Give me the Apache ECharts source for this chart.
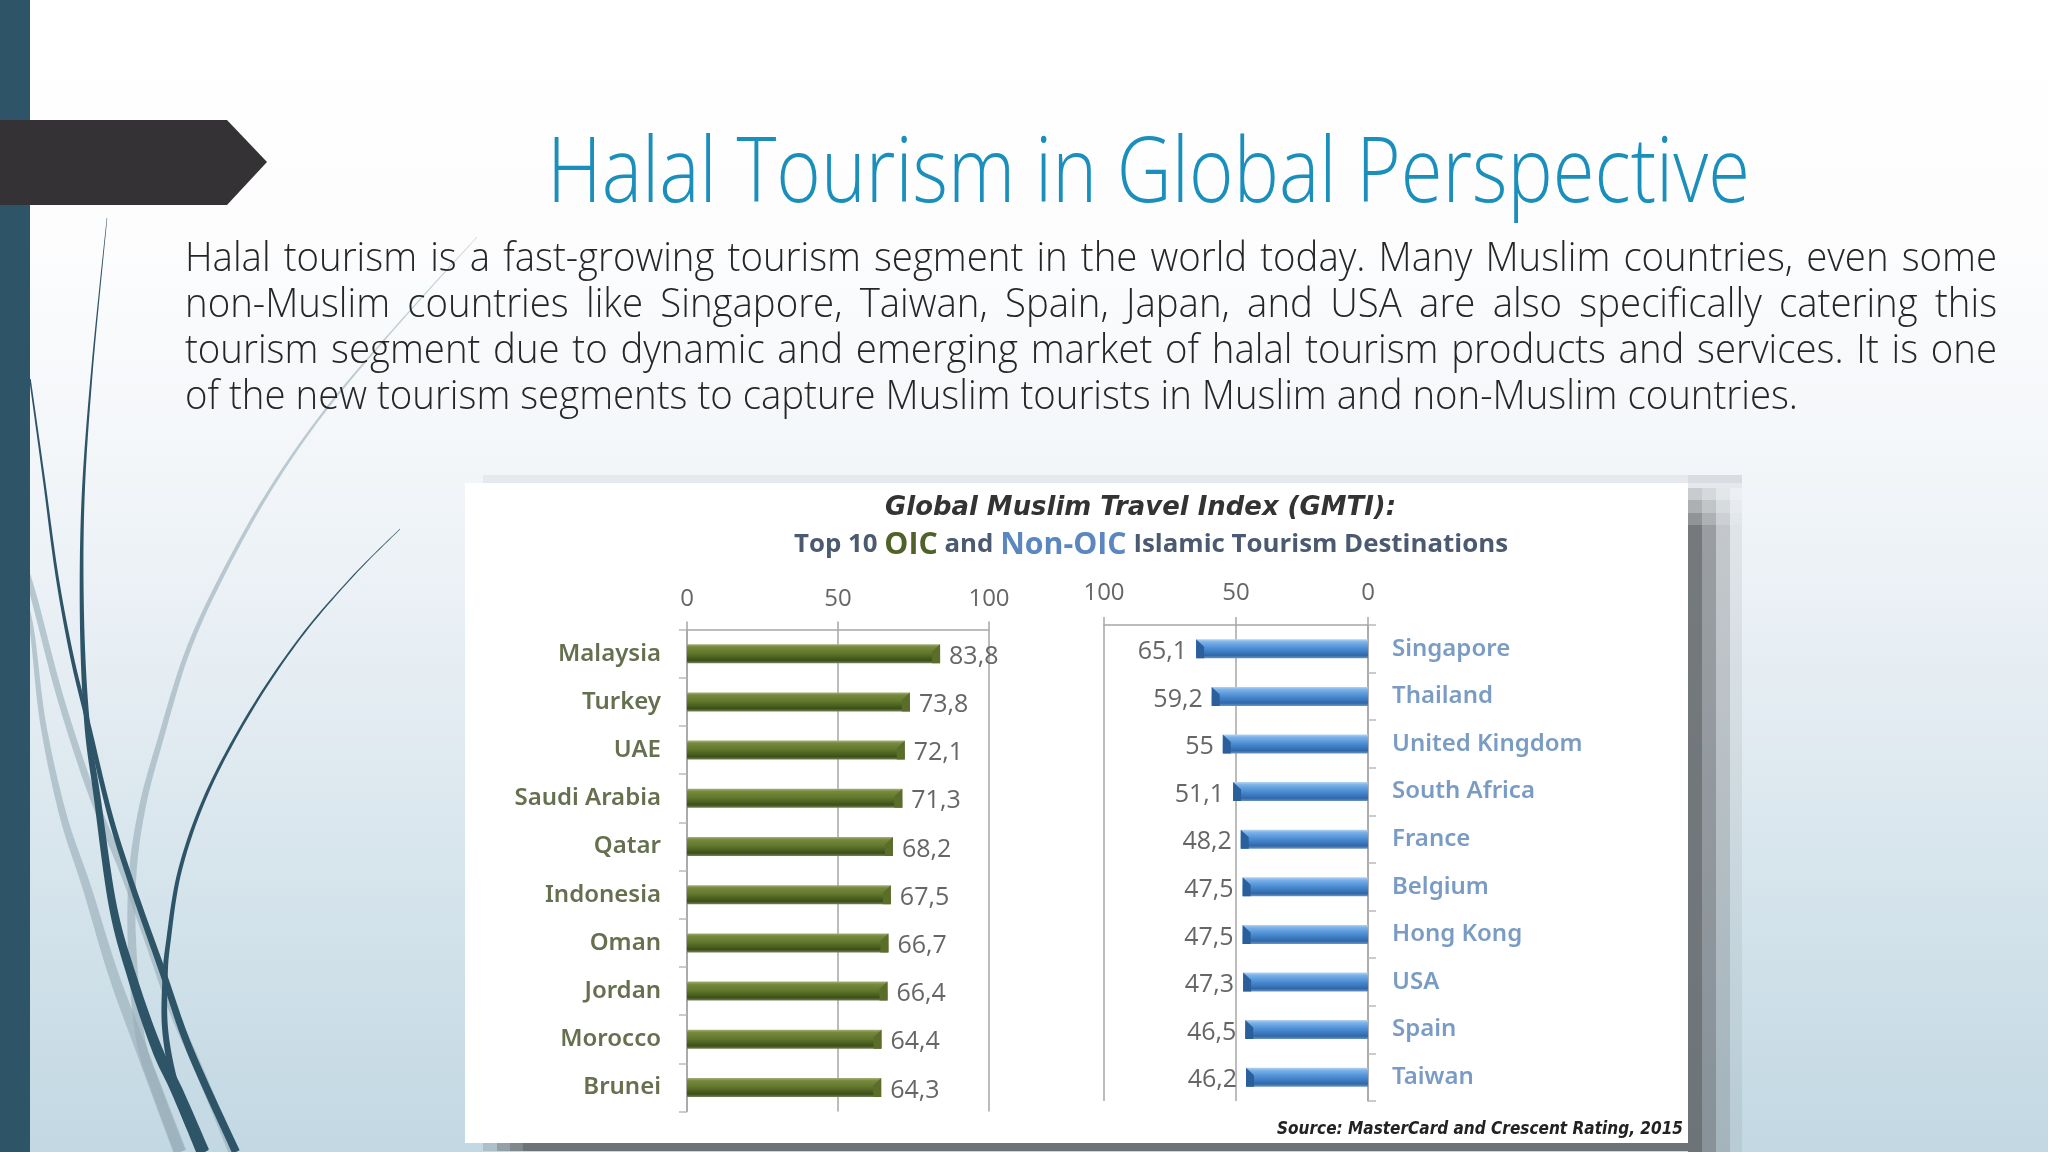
<!DOCTYPE html>
<html>
<head>
    <meta charset="utf-8">
    <title>Halal Tourism in Global Perspective</title>
    <style>html,body{margin:0;padding:0;background:#fff}</style>
</head>
<body>
    <div id="main" style="width:2048px;height:1152px;"></div>
    <script src="https://cdn.jsdelivr.net/npm/echarts@6/dist/echarts.min.js"></script>
    <script type="text/javascript">
    var oicCountries = ['Malaysia', 'Turkey', 'UAE', 'Saudi Arabia', 'Qatar', 'Indonesia', 'Oman', 'Jordan', 'Morocco', 'Brunei'];
    var oicValues = [83.8, 73.8, 72.1, 71.3, 68.2, 67.5, 66.7, 66.4, 64.4, 64.3];
    var nonOicCountries = ['Singapore', 'Thailand', 'United Kingdom', 'South Africa', 'France', 'Belgium', 'Hong Kong', 'USA', 'Spain', 'Taiwan'];
    var nonOicValues = [65.1, 59.2, 55, 51.1, 48.2, 47.5, 47.5, 47.3, 46.5, 46.2];

    var slideTitle = 'Halal Tourism in Global Perspective';
    var bodyLines = [
        'Halal tourism is a fast-growing tourism segment in the world today. Many Muslim countries, even some',
        'non-Muslim countries like Singapore, Taiwan, Spain, Japan, and USA are also specifically catering this',
        'tourism segment due to dynamic and emerging market of halal tourism products and services. It is one',
        'of the new tourism segments to capture Muslim tourists in Muslim and non-Muslim countries.'
    ];
    var chartTitle = 'Global Muslim Travel Index (GMTI):';
    var sourceNote = 'Source: MasterCard and Crescent Rating, 2015';

    var measureCtx = document.createElement('canvas').getContext('2d');

    // stretch a line of text so it takes the same width as in the slide
    function fitText(text, font, x, y, width, fill) {
        measureCtx.font = font;
        return {
            type: 'text', x: x, y: y, scaleX: width / measureCtx.measureText(text).width, z: 5,
            style: {text: text, font: font, fill: fill, verticalAlign: 'middle', align: 'left'}
        };
    }

    // body text: last line sets the letter width, the others are justified word by word
    function bodyText(font, left, right, lastRight, top, step, fill) {
        measureCtx.font = font;
        var scale = (lastRight - left) / measureCtx.measureText(bodyLines[3]).width;
        var gap = measureCtx.measureText(' ').width * scale, out = [];
        bodyLines.forEach(function (line, i) {
            var words = line.split(' ');
            var sum = words.reduce(function (a, w) { return a + measureCtx.measureText(w).width * scale; }, 0);
            var space = i < 3 ? (right - left - sum) / (words.length - 1) : gap;
            var x = left;
            words.forEach(function (w) {
                out.push({
                    type: 'text', x: x, y: top + i * step, scaleX: scale, z: 5,
                    style: {text: w, font: font, fill: fill, verticalAlign: 'middle', align: 'left'}
                });
                x += measureCtx.measureText(w).width * scale + space;
            });
        });
        return out;
    }

    // tapered ribbon through some points, for the swooshes on the left
    function ribbon(pts, w0, w1, color) {
        var line = [], n = pts.length, steps = 12;
        for (var i = 0; i < n - 1; i++) {
            var p0 = pts[Math.max(i - 1, 0)], p1 = pts[i], p2 = pts[i + 1], p3 = pts[Math.min(i + 2, n - 1)];
            for (var s = 0; s < steps; s++) {
                var t = s / steps, t2 = t * t, t3 = t2 * t;
                line.push([0, 1].map(function (k) {
                    return 0.5 * (2 * p1[k] + (p2[k] - p0[k]) * t + (2 * p0[k] - 5 * p1[k] + 4 * p2[k] - p3[k]) * t2 + (3 * p1[k] - p0[k] - 3 * p2[k] + p3[k]) * t3);
                }));
            }
        }
        line.push(pts[n - 1]);
        var a = [], b = [];
        line.forEach(function (p, i) {
            var q0 = line[Math.max(i - 1, 0)], q1 = line[Math.min(i + 1, line.length - 1)];
            var dx = q1[0] - q0[0], dy = q1[1] - q0[1], len = Math.sqrt(dx * dx + dy * dy) || 1;
            var w = (w0 + (w1 - w0) * i / (line.length - 1)) / 2;
            a.push([p[0] - dy / len * w, p[1] + dx / len * w]);
            b.unshift([p[0] + dy / len * w, p[1] - dx / len * w]);
        });
        return {type: 'polygon', z: -8, shape: {points: a.concat(b)}, style: {fill: color}};
    }

    function block(x, y, w, h, fill, z) {
        return {type: 'rect', z: z || -5, shape: {x: x, y: y, width: w, height: h}, style: {fill: fill}};
    }

    function shade(alpha) {
        return 'rgba(90,94,96,' + alpha + ')';
    }

    var dark = '#2e5468', pale = 'rgba(150,172,182,0.6)';
    var decoration = [
        ribbon([[477, 237], [400, 322], [327, 408], [270, 490], [222, 576], [187, 653], [160, 741], [143, 804], [133, 870], [132, 944], [140, 1036], [157, 1091], [180, 1152]], 0.5, 11, pale),
        ribbon([[18, 548], [33, 594], [57, 686], [80, 760], [100, 815], [123, 870], [147, 936], [173, 1010], [200, 1072], [233, 1152]], 6, 9, pale),
        ribbon([[22, 585], [32, 631], [43, 723], [63, 815], [87, 888], [113, 973], [143, 1054], [180, 1152]], 3, 13, pale),
        ribbon([[107, 218], [92, 370], [83, 500], [82, 620], [87, 723], [97, 796], [113, 907], [133, 980], [157, 1049], [177, 1091], [203, 1152]], 0.5, 13, dark),
        ribbon([[30, 379], [44, 480], [57, 576], [72, 657], [88, 723], [110, 815], [133, 888], [163, 973], [190, 1050], [236, 1152]], 1.5, 8, dark),
        ribbon([[400, 529], [353, 576], [300, 638], [250, 712], [207, 793], [180, 870], [168, 944], [165, 980], [165, 1028], [173, 1076], [187, 1120], [205, 1152]], 0.5, 8, dark),
        block(0, 0, 30, 1152, dark, -7),
        {type: 'polygon', z: -7, shape: {points: [[0, 120], [227, 120], [267, 162], [227, 205], [0, 205]]}, style: {fill: '#343234'}},
        block(483, 475, 1259, 8, shade(0.08), -6),
        block(1688, 475, 54, 13, shade(0.08), -6)
    ];

    // stepped blurry shadow of the pasted picture, right side then bottom
    [[1688, 14, 0.82], [1702, 14, 0.57], [1716, 14, 0.29], [1730, 12, 0.1]].forEach(function (col) {
        [[488, 12, 0.33], [500, 13, 0.55], [513, 12, 0.78], [525, 627, 1]].forEach(function (row) {
            decoration.push(block(col[0], row[0], col[1], row[1], shade(col[2] * row[2]), -6));
        });
    });
    [[483, 14, 0.2], [497, 13, 0.45], [510, 13, 0.65], [523, 1165, 0.82]].forEach(function (col) {
        decoration.push(block(col[0], 1143, col[1], 8, shade(col[2]), -6));
    });

    decoration.push(block(465, 483, 1223, 660, '#ffffff', -3));
    decoration.push(fitText(slideTitle, '300 90px "Open Sans"', 547, 176, 1203, '#1b8fbc'));
    decoration = decoration.concat(bodyText('300 40px "Open Sans"', 185, 1997, 1798, 259.5, 46.1, '#262626'));
    decoration.push(fitText(chartTitle, 'italic bold 27px "DejaVu Sans"', 885, 508, 511, '#333333'));
    decoration.push({
        type: 'text', x: 794, y: 545, scaleX: 1.01, z: 5,
        style: {
            text: '{a|Top 10 }{g|OIC}{a| and }{b|Non-OIC}{a| Islamic Tourism Destinations}',
            verticalAlign: 'middle', align: 'left',
            rich: {
                a: {font: 'bold 25.6px "Open Sans"', fill: '#4a5a70'},
                g: {font: 'bold 30px "Open Sans"', fill: '#4f6228'},
                b: {font: 'bold 30px "Open Sans"', fill: '#5b87c0'}
            }
        }
    });
    decoration.push(fitText(sourceNote, 'italic bold 17px "DejaVu Sans"', 1277, 1130, 406, '#222222'));

    function decimalComma(p) {
        return String(p.value).replace('.', ',');
    }

    function barGradient(colors) {
        return {type: 'linear', x: 0, y: 0, x2: 0, y2: 1, colorStops: [
            {offset: 0, color: colors[0]}, {offset: 0.14, color: colors[1]},
            {offset: 0.45, color: colors[2]}, {offset: 0.85, color: colors[3]}, {offset: 1, color: colors[4]}
        ]};
    }

    var axisGrey = '#a6a6a6';

    function valueAxis(gridIndex, inverse, margin) {
        return {
            type: 'value', gridIndex: gridIndex, min: 0, max: 100, interval: 50, position: 'top', inverse: inverse,
            axisLine: {show: true, lineStyle: {color: axisGrey, width: 1.5}},
            axisTick: {show: true, length: 8, lineStyle: {color: axisGrey, width: 1.5}},
            splitLine: {show: true, lineStyle: {color: axisGrey, width: 1.5}},
            axisLabel: {color: '#666666', fontFamily: 'Open Sans', fontSize: 24, margin: margin}
        };
    }

    function categoryAxis(gridIndex, names, side, color, margin) {
        return {
            type: 'category', gridIndex: gridIndex, data: names, inverse: true, position: side,
            axisLine: {show: true, onZero: false, lineStyle: {color: axisGrey, width: 1.5}},
            axisTick: {show: true, length: 8, lineStyle: {color: '#bbbbbb', width: 1.5}},
            axisLabel: {color: color, fontFamily: 'Noto Sans', fontWeight: 600, fontSize: 24, margin: margin, padding: [5, 0, 0, 0]}
        };
    }

    function barSeries(index, values, colors, labelPos) {
        return {
            type: 'bar', xAxisIndex: index, yAxisIndex: index, data: values, barWidth: 19,
            itemStyle: {color: barGradient(colors)},
            label: {show: true, position: labelPos, distance: 9, offset: [0, 3], color: '#666666', fontFamily: 'Open Sans', fontSize: 25, formatter: decimalComma}
        };
    }

    // the darker bevel at the free end of each bar
    function capSeries(index, values, color, dir) {
        return {
            type: 'custom', xAxisIndex: index, yAxisIndex: index, z: 3, silent: true,
            data: values.map(function (v, i) { return [v, i]; }),
            encode: {x: 0, y: 1},
            renderItem: function (params, api) {
                var p = api.coord([api.value(0), api.value(1)]);
                return {
                    type: 'polygon',
                    shape: {points: [[p[0], p[1] - 9.5], [p[0] + dir * 8, p[1] - 2], [p[0] + dir * 8, p[1] + 9.5], [p[0], p[1] + 9.5]]},
                    style: {fill: color}
                };
            }
        };
    }

    window.onload = function () {
        var myChart = echarts.init(document.getElementById('main'));
        myChart.setOption({
            animation: false,
            backgroundColor: {type: 'linear', x: 0, y: 0, x2: 0, y2: 1, colorStops: [
                {offset: 0, color: '#ffffff'}, {offset: 0.2, color: '#fdfdfe'},
                {offset: 0.4, color: '#f3f6f9'}, {offset: 0.55, color: '#e8eff4'}, {offset: 1, color: '#c2d8e3'}
            ]},
            grid: [
                {left: 687, top: 629.6, width: 302, height: 482},
                {left: 1104, top: 625, width: 264, height: 476}
            ],
            xAxis: [valueAxis(0, false, 18), valueAxis(1, true, 20)],
            yAxis: [
                categoryAxis(0, oicCountries, 'left', '#66704f', 26),
                categoryAxis(1, nonOicCountries, 'right', '#7a9cc4', 24)
            ],
            series: [
                barSeries(0, oicValues, ['#a3b07c', '#76893c', '#64792e', '#3c4f17', '#74825a'], 'right'),
                barSeries(1, nonOicValues, ['#b5d3f0', '#7cb2e8', '#4f90d6', '#2f68ab', '#6e94bf'], 'left'),
                capSeries(0, oicValues, '#5a6e2a', -1),
                capSeries(1, nonOicValues, '#2a5f9c', 1)
            ],
            graphic: {elements: decoration}
        });
    };
    </script>
</body>
</html>
